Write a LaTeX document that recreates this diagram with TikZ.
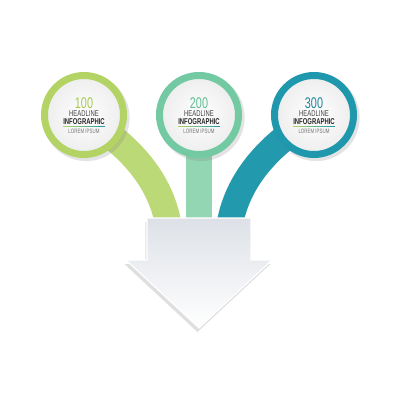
\documentclass[tikz,border=0pt]{standalone}
\usepackage{fontspec}
\setmainfont{Liberation Sans}
\usetikzlibrary{shadows}

\definecolor{limering}{HTML}{B3D465}
\definecolor{limestem}{HTML}{BCD977}
\definecolor{limetext}{HTML}{A6C94F}
\definecolor{mintring}{HTML}{72C9A2}
\definecolor{mintstem}{HTML}{93D6B4}
\definecolor{minttext}{HTML}{5DBE93}
\definecolor{tealring}{HTML}{1F97AC}
\definecolor{tealstem}{HTML}{2399AD}
\definecolor{tealtext}{HTML}{1B8699}
\definecolor{arrowgray}{HTML}{DDE1E7}

\newcommand\cond[1]{\scalebox{0.7}[1]{#1}}

\begin{document}
\begin{tikzpicture}[
  x=0.025cm, y=-0.025cm,
  spot/.style={circle, minimum size=1.975cm, inner sep=0pt},
  ring/.style={spot, draw=#1, line width=0.175cm,
    inner color=white, outer color=gray!14,
    drop shadow={opacity=0.22, shadow scale=1.1, shadow xshift=0.05cm, shadow yshift=-0.06cm}},
  stem/.style={draw=#1, line width=0.66cm},
  num/.style={inner sep=0pt, text=#1, font=\fontsize{11}{11}\selectfont},
  headline/.style={inner sep=0pt, text=black!75, font=\fontsize{6}{6}\selectfont},
  infog/.style={inner sep=0pt, text=black!85, font=\fontsize{6}{6}\selectfont\bfseries},
  lorem/.style={inner sep=0pt, text=black!55, font=\fontsize{4.5}{4.5}\selectfont},
  stripe/.style={left color=limering, right color=tealring}
]
\useasboundingbox (0,0) rectangle (400,400);

% where the circles go
\node[spot] (c1) at (84,115) {};
\node[spot] (c2) at (199,115) {};
\node[spot] (c3) at (314,115) {};

% arrow top
\coordinate (a1) at (170,240);
\coordinate (a2) at (199,240);
\coordinate (a3) at (228,240);

% stems
\draw[stem=limestem] (c1.-38) .. controls (146,165) and (168,198) .. (a1);
\draw[stem=mintstem] (c2.south) -- (a2);
\draw[stem=tealstem] (c3.-142) .. controls (252,165) and (230,198) .. (a3);

% circles
\node[ring=limering] (r1) at (c1) {};
\node[ring=mintring] (r2) at (c2) {};
\node[ring=tealring] (r3) at (c3) {};

% arrow
\path[draw=white, line width=0.8pt, top color=arrowgray, bottom color=white,
      drop shadow={opacity=0.25, shadow xshift=-0.04cm, shadow yshift=-0.1cm}]
  (147,218) -- (251,218) -- (251,260) -- (272,260) -- (199,328)
  -- (126,260) -- (147,260) -- cycle;

% texts
\node[num=limetext] (n1) at (84,103) {\cond{100}};
\node[headline] (h1) at (84,114) {\cond{HEADLINE}};
\node[infog] (i1) at (84,122) {\cond{INFOGRAPHIC}};
\node[lorem] (l1) at (84,131) {\cond{LOREM IPSUM}};
\shade[stripe] ([yshift=-0.6pt]i1.south west) rectangle ([yshift=-1.2pt]i1.south east);

\node[num=minttext] (n2) at (199,103) {\cond{200}};
\node[headline] (h2) at (199,114) {\cond{HEADLINE}};
\node[infog] (i2) at (199,122) {\cond{INFOGRAPHIC}};
\node[lorem] (l2) at (199,131) {\cond{LOREM IPSUM}};
\shade[stripe] ([yshift=-0.6pt]i2.south west) rectangle ([yshift=-1.2pt]i2.south east);

\node[num=tealtext] (n3) at (314,103) {\cond{300}};
\node[headline] (h3) at (314,114) {\cond{HEADLINE}};
\node[infog] (i3) at (314,122) {\cond{INFOGRAPHIC}};
\node[lorem] (l3) at (314,131) {\cond{LOREM IPSUM}};
\shade[stripe] ([yshift=-0.6pt]i3.south west) rectangle ([yshift=-1.2pt]i3.south east);
\end{tikzpicture}
\end{document}
